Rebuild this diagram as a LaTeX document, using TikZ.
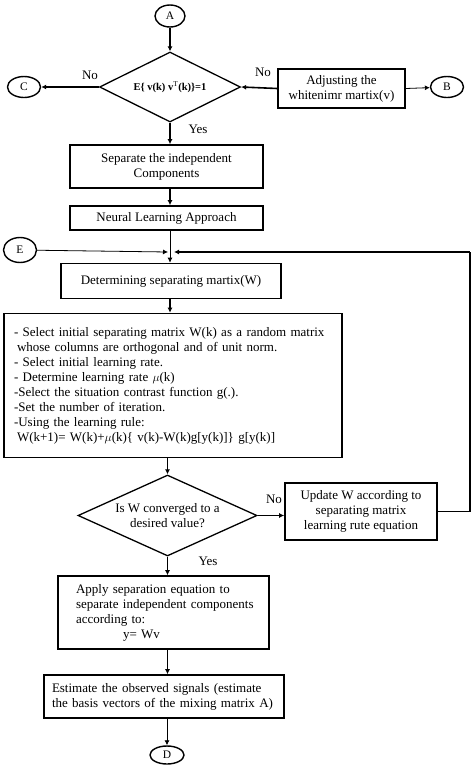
\documentclass[tikz,border=0pt]{standalone}
\usepackage{fontspec}
\setmainfont{Liberation Serif}
\usetikzlibrary{shapes.geometric,arrows.meta}
\begin{document}
\begin{tikzpicture}[x=1pt,y=-1pt,
  font=\fontsize{13}{15}\selectfont,
  box/.style={draw,line width=1.6pt,inner sep=0pt},
  conn/.style={draw,ellipse,line width=1.4pt,inner sep=0pt,font=\fontsize{11.5}{13}\selectfont},
  dia/.style={draw,diamond,line width=1.3pt,inner sep=0pt,aspect=2},
  thk/.style={line width=1.6pt,-{Latex[length=5pt,width=5pt]}},
  thn/.style={line width=0.8pt,-{Latex[length=5pt,width=5pt]}},
  lbl/.style={inner sep=0pt}]
\useasboundingbox (0,0) rectangle (474,769);
% connectors (circles)
\node[conn,minimum width=30pt,minimum height=22pt] (A) at (170,16) {A};
\node[conn,minimum width=33pt,minimum height=21pt] (C) at (24,87) {C};
\node[conn,minimum width=33pt,minimum height=21pt] (B) at (447,87) {B};
\node[conn,minimum width=33pt,minimum height=25pt] (E) at (20,250) {E};
\node[conn,minimum width=34pt,minimum height=18pt] (D) at (167,755) {D};
% decision 1
\node[dia,minimum width=141pt,minimum height=70pt,font=\fontsize{10.5}{12}\selectfont\bfseries] (d1) at (170,87) {E\{ v(k) v$^{\mathrm{T}}$(k)\}=1};
\node[box,minimum width=127pt,minimum height=39pt,align=center] (adj) at (341.5,88.5) {Adjusting the\\ whitenimr martix(v)};
% process boxes
\node[box,minimum width=193pt,minimum height=43pt,align=center] (sep) at (166.5,166.5) {Separate the independent\\ Components};
\node[box,minimum width=193pt,minimum height=24pt] (neu) at (166.5,218) {Neural Learning Approach};
\coordinate (J) at (170,252);
\node[box,minimum width=220pt,minimum height=35pt] (det) at (171,281) {Determining separating martix(W)};
\node[box,minimum width=338pt,minimum height=144pt,text width=318pt,inner xsep=10pt,align=left] (big) at (173,385.5) {%
- Select initial separating matrix W(k) as a random matrix\\
\hspace*{3pt}whose columns are orthogonal and of unit norm.\\
- Select initial learning rate.\\
- Determine learning rate $\mu$(k)\\
-Select the situation contrast function g(.).\\
-Set the number of iteration.\\
-Using the learning rule:\\
\hspace*{3pt}W(k+1)= W(k)+$\mu$(k)\{ v(k)-W(k)g[y(k)]\} g[y(k)]};
% decision 2
\node[dia,minimum width=179pt,minimum height=81pt,align=center] (d2) at (167.5,515.5) {Is W converged to a\\ desired value?};
\node[box,minimum width=152pt,minimum height=57pt,align=center] (upd) at (361,511.5) {Update W according to\\ separating matrix\\ learning rute equation};
\node[box,minimum width=211pt,minimum height=73pt,text width=195pt,inner xsep=8pt,align=left] (app) at (163.5,612.5) {\hspace*{10pt}Apply separation equation to\\ \hspace*{10pt}separate independent components\\ \hspace*{10pt}according to:\\ \hspace*{57pt}y= Wv};
\node[box,minimum width=240pt,minimum height=43pt,text width=232pt,inner xsep=4pt,align=left] (est) at (164,696.5) {\hspace*{4pt}Estimate the observed signals (estimate\\ \hspace*{4pt}the basis vectors of the mixing matrix A)};
% labels
\node[lbl] (noC) at (90,75) {No};
\node[lbl] (noB) at (263,72) {No};
\node[lbl] (yes1) at (198,129) {Yes};
\node[lbl] (no2) at (274,499) {No};
\node[lbl] (yes2) at (208,561) {Yes};
% connections
\coordinate (FB) at (470,252);
\draw[thk] (A) -- (d1.north);
\draw[thk] (d1.west) -- (C);
\draw[thk] (adj.west) -- (d1.east);
\draw[thn] (adj.east) -- (B);
\draw[thk] (d1.south) -- (d1.south|-sep.north);
\draw[thk] (J|-sep.south) -- (J|-neu.north);
\draw[line width=0.8pt] (J|-neu.south) -- (J);
\draw[thn] (J) -- (J|-det.north);
\draw[thn] (E) -- ([xshift=-2pt]J);
\draw[line width=1.6pt] (upd.east) -| (FB);
\draw[thk] (FB) -- ([xshift=4pt]J);
\draw[thk] (J|-det.south) -- (J|-big.north);
\draw[thk] (big.south-|d2.north) -- (d2.north);
\draw[thk] (d2.east) -- (upd.west|-d2.east);
\draw[thn] (d2.south) -- (d2.south|-app.north);
\draw[thn] (app.south-|d2.south) -- (est.north-|d2.south);
\draw[thn] (est.south-|D) -- (D);
\end{tikzpicture}
\end{document}
